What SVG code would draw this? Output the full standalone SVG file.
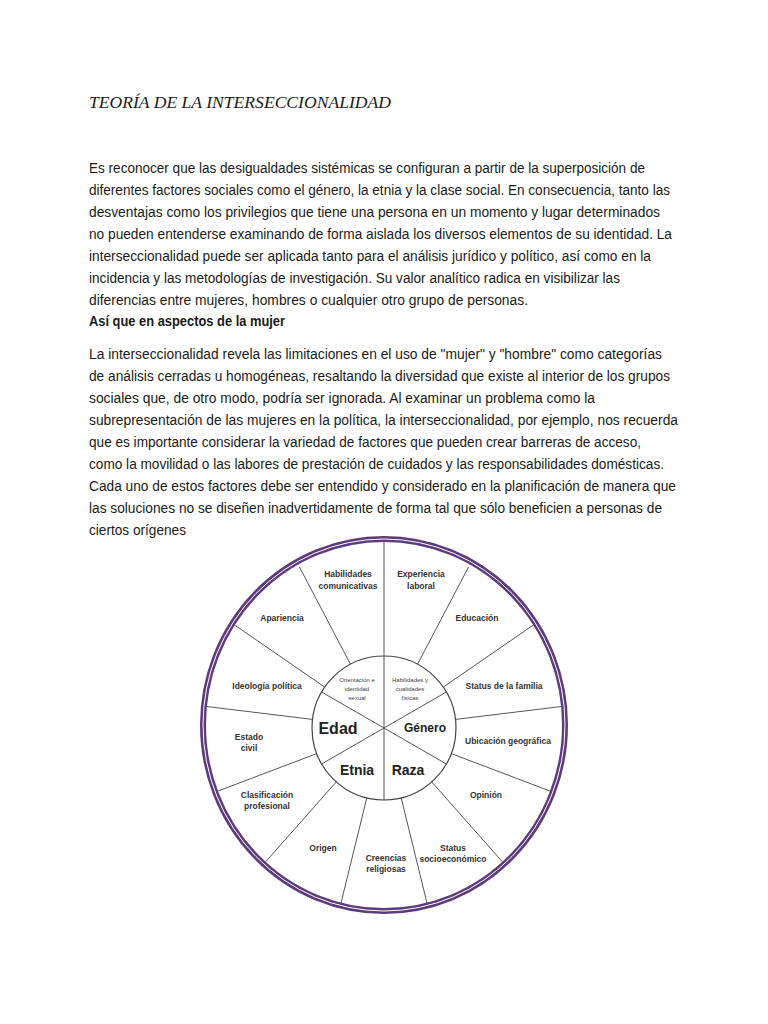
<svg xmlns="http://www.w3.org/2000/svg" width="768" height="1024" viewBox="0 0 768 1024">
<style>
.b{font-family:"Liberation Sans",Arial,sans-serif;font-size:14px;fill:#1a1a1a}
.h{font-weight:bold}
.l{font-family:"Liberation Sans",Arial,sans-serif;font-size:8.5px;font-weight:bold;fill:#333;text-anchor:middle}
.s{font-family:"Liberation Sans",Arial,sans-serif;font-size:6px;fill:#444;text-anchor:middle}
.c{font-family:"Liberation Sans",Arial,sans-serif;font-weight:bold;fill:#222;text-anchor:middle}
.sp{stroke:#555;stroke-width:1;fill:none}
</style>
<rect width="768" height="1024" fill="#fff"/>
<text x="89" y="108" font-family="Liberation Serif,serif" font-style="italic" font-size="17" fill="#1a1a1a" textLength="302" lengthAdjust="spacingAndGlyphs">TEORÍA DE LA INTERSECCIONALIDAD</text>
<g class="b">
<text x="89" y="173" textLength="556" lengthAdjust="spacingAndGlyphs">Es reconocer que las desigualdades sistémicas se configuran a partir de la superposición de</text>
<text x="89" y="195" textLength="581" lengthAdjust="spacingAndGlyphs">diferentes factores sociales como el género, la etnia y la clase social. En consecuencia, tanto las</text>
<text x="89" y="217" textLength="571" lengthAdjust="spacingAndGlyphs">desventajas como los privilegios que tiene una persona en un momento y lugar determinados</text>
<text x="89" y="239" textLength="583" lengthAdjust="spacingAndGlyphs">no pueden entenderse examinando de forma aislada los diversos elementos de su identidad. La</text>
<text x="89" y="261" textLength="562" lengthAdjust="spacingAndGlyphs">interseccionalidad puede ser aplicada tanto para el análisis jurídico y político, así como en la</text>
<text x="89" y="283" textLength="531" lengthAdjust="spacingAndGlyphs">incidencia y las metodologías de investigación. Su valor analítico radica en visibilizar las</text>
<text x="89" y="305" textLength="439" lengthAdjust="spacingAndGlyphs">diferencias entre mujeres, hombres o cualquier otro grupo de personas.</text>
<text x="89" y="326" class="h" textLength="196" lengthAdjust="spacingAndGlyphs">Así que en aspectos de la mujer</text>
<text x="89" y="359" textLength="573" lengthAdjust="spacingAndGlyphs">La interseccionalidad revela las limitaciones en el uso de "mujer" y "hombre" como categorías</text>
<text x="89" y="381" textLength="581" lengthAdjust="spacingAndGlyphs">de análisis cerradas u homogéneas, resaltando la diversidad que existe al interior de los grupos</text>
<text x="89" y="403" textLength="506" lengthAdjust="spacingAndGlyphs">sociales que, de otro modo, podría ser ignorada. Al examinar un problema como la</text>
<text x="89" y="425" textLength="589" lengthAdjust="spacingAndGlyphs">subrepresentación de las mujeres en la política, la interseccionalidad, por ejemplo, nos recuerda</text>
<text x="89" y="447" textLength="552" lengthAdjust="spacingAndGlyphs">que es importante considerar la variedad de factores que pueden crear barreras de acceso,</text>
<text x="89" y="469" textLength="575" lengthAdjust="spacingAndGlyphs">como la movilidad o las labores de prestación de cuidados y las responsabilidades domésticas.</text>
<text x="89" y="491" textLength="587" lengthAdjust="spacingAndGlyphs">Cada uno de estos factores debe ser entendido y considerado en la planificación de manera que</text>
<text x="89" y="513" textLength="573" lengthAdjust="spacingAndGlyphs">las soluciones no se diseñen inadvertidamente de forma tal que sólo beneficien a personas de</text>
<text x="89" y="535" textLength="97" lengthAdjust="spacingAndGlyphs">ciertos orígenes</text>
</g>
<g id="connectors" class="sp">
<line x1="384" y1="656" x2="384" y2="540"/>
<line x1="417.5" y1="664.3" x2="468.6" y2="566.9"/>
<line x1="443.3" y1="687.1" x2="533.8" y2="624.7"/>
<line x1="455.5" y1="719.4" x2="564.7" y2="706.1"/>
<line x1="451.3" y1="753.6" x2="554.1" y2="792.6"/>
<line x1="431.7" y1="781.9" x2="504.6" y2="864.3"/>
<line x1="401.2" y1="797.9" x2="427.4" y2="904.7"/>
<line x1="350.5" y1="664.3" x2="299.4" y2="566.9"/>
<line x1="324.7" y1="687.1" x2="234.2" y2="624.7"/>
<line x1="312.5" y1="719.4" x2="203.3" y2="706.1"/>
<line x1="316.7" y1="753.6" x2="213.9" y2="792.6"/>
<line x1="336.3" y1="781.9" x2="263.4" y2="864.3"/>
<line x1="366.8" y1="797.9" x2="340.6" y2="904.7"/>
<line x1="384" y1="656" x2="384" y2="800"/>
<line x1="321.6" y1="692" x2="446.4" y2="764"/>
<line x1="446.4" y1="692" x2="321.6" y2="764"/>
</g>
<g id="ring">
<ellipse cx="384" cy="725" rx="181" ry="186" fill="none" stroke="#5e3a7e" stroke-width="6"/>
<ellipse cx="384" cy="725" rx="181" ry="186" fill="none" stroke="#fff" stroke-width="1"/>
<circle cx="384" cy="728" r="72" fill="none" stroke="#444" stroke-width="1.2"/>
</g>
<g id="n1"><text class="l" x="348" y="577">Habilidades</text><text class="l" x="348" y="589">comunicativas</text></g>
<g id="n2"><text class="l" x="421" y="577">Experiencia</text><text class="l" x="421" y="589">laboral</text></g>
<g id="n3"><text class="l" x="282" y="621">Apariencia</text></g>
<g id="n4"><text class="l" x="477" y="621">Educación</text></g>
<g id="n5"><text class="l" x="267" y="689">Ideología política</text></g>
<g id="n6"><text class="l" x="504" y="689">Status de la familia</text></g>
<g id="n7"><text class="l" x="249" y="740">Estado</text><text class="l" x="249" y="751">civil</text></g>
<g id="n8"><text class="l" x="508" y="744">Ubicación geográfica</text></g>
<g id="n9"><text class="l" x="267" y="798">Clasificación</text><text class="l" x="267" y="809">profesional</text></g>
<g id="n10"><text class="l" x="486" y="798">Opinión</text></g>
<g id="n11"><text class="l" x="323" y="851">Origen</text></g>
<g id="n12"><text class="l" x="386" y="861">Creencias</text><text class="l" x="386" y="872">religiosas</text></g>
<g id="n13"><text class="l" x="453" y="851">Status</text><text class="l" x="453" y="862">socioeconómico</text></g>
<g id="i1"><text class="s" x="357" y="682">Orientación e</text><text class="s" x="357" y="691">identidad</text><text class="s" x="357" y="700">sexual</text></g>
<g id="i2"><text class="s" x="410" y="682">Habilidades y</text><text class="s" x="410" y="691">cualidades</text><text class="s" x="410" y="700">físicas</text></g>
<g id="i3"><text class="c" x="338" y="734" font-size="16">Edad</text></g>
<g id="i4"><text class="c" x="425" y="732" font-size="12">Género</text></g>
<g id="i5"><text class="c" x="357" y="775" font-size="14">Etnia</text></g>
<g id="i6"><text class="c" x="408" y="775" font-size="14">Raza</text></g>
</svg>
